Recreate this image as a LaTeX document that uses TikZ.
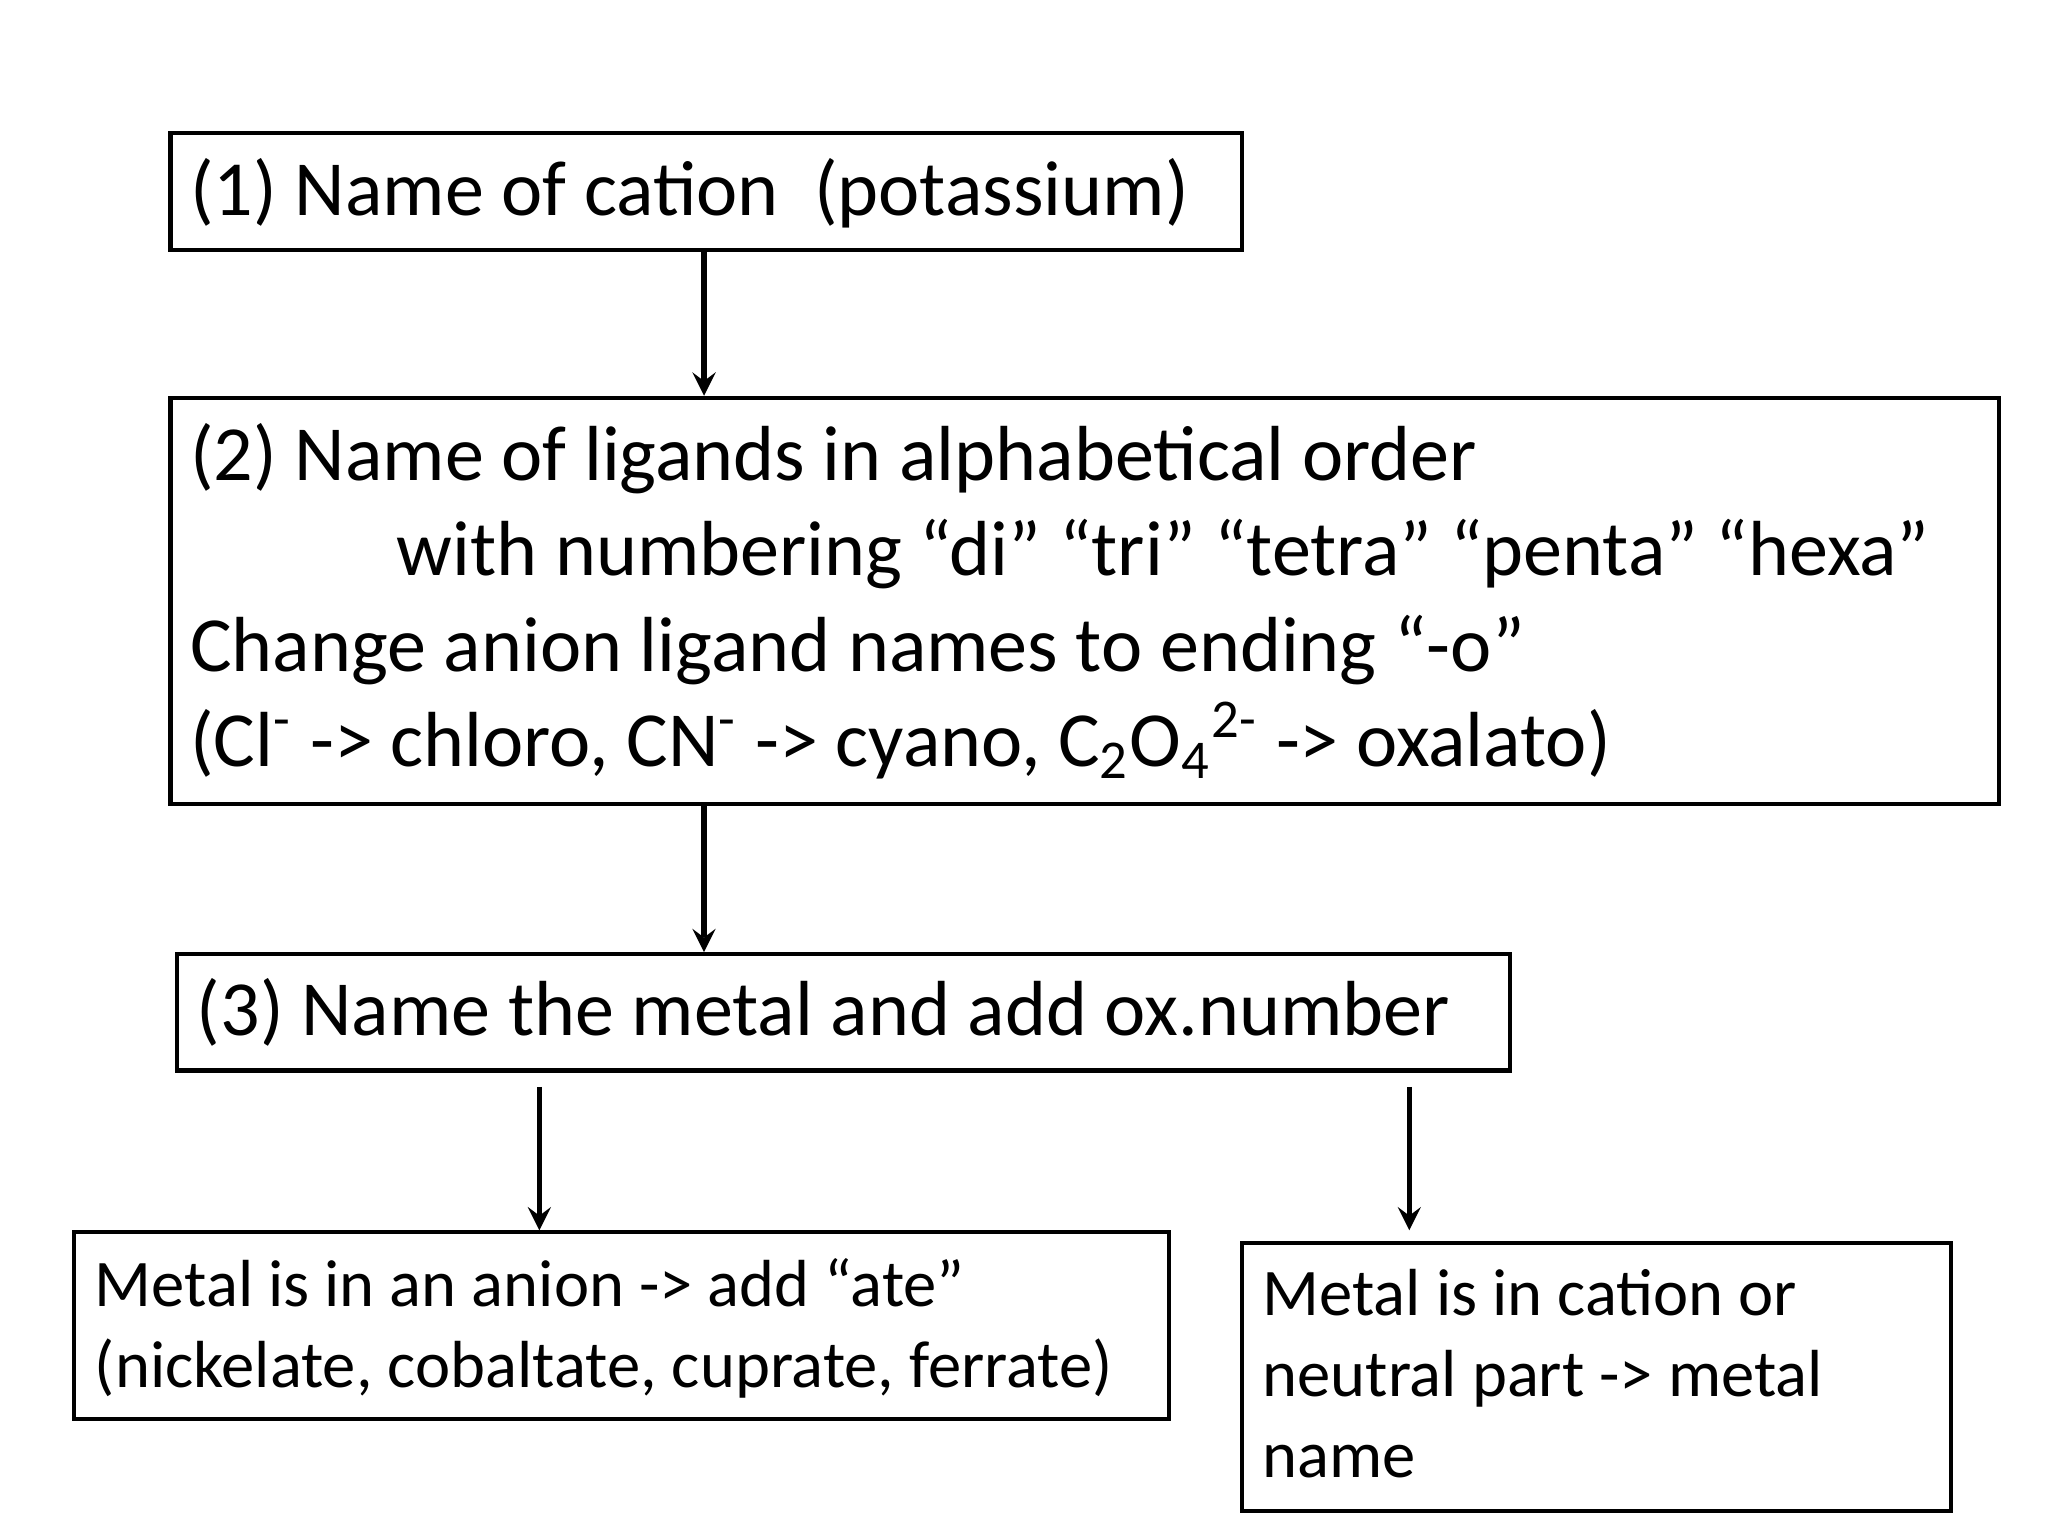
\documentclass[tikz,border=0pt]{standalone}
\usepackage{fontspec}
\setmainfont{Carlito}
\tikzset{box/.style={draw,line width=0.9pt,anchor=north west,inner sep=0},
 big/.style={anchor=base west,inner sep=0,font=\fontsize{17}{20.7}\selectfont},
 small/.style={anchor=base west,inner sep=0,font=\fontsize{14.5}{17.6}\selectfont},
 arr/.style={->,line width=1.2pt,>=stealth}}
\begin{document}
\begin{tikzpicture}[x=0.01cm,y=-0.01cm]
\useasboundingbox (0,0) rectangle (1568,1176);
\node[box,minimum width=8.2cm,minimum height=0.9cm] (b1) at (129,100) {};
\node[box,minimum width=13.99cm,minimum height=3.11cm] (b2) at (129,303) {};
\node[box,minimum width=10.2cm,minimum height=0.89cm] (b3) at (134,729) {};
\node[box,minimum width=8.38cm,minimum height=1.43cm] (b4) at (55,942) {};
\node[box,minimum width=5.43cm,minimum height=2.05cm] (b5) at (949,950) {};
\node[big] (t1) at (145,165) {(1) Name of cation\ \ (potassium)};
\node[big] (t2) at (145,368) {(2) Name of ligands in alphabetical order};
\node[big] (t3) at (303,441) {with numbering “di” “tri” “tetra” “penta” “hexa”};
\node[big] (t4) at (145,514) {Change anion ligand names to ending “-o”};
\node[big] (t5) at (145,587) {(Cl\textsuperscript{-} -> chloro, CN\textsuperscript{-} -> cyano, C\textsubscript{2}O\textsubscript{4}\textsuperscript{2-} -> oxalato)};
\node[big] (t6) at (150,793) {(3) Name the metal and add ox.number};
\node[small] (t7) at (72,1000) {Metal is in an anion -> add “ate”};
\node[small] (t8) at (72,1062) {(nickelate, cobaltate, cuprate, ferrate)};
\node[small] (t9) at (966,1007) {Metal is in cation or};
\node[small] (t10) at (966,1069) {neutral part -> metal};
\node[small] (t11) at (966,1131) {name};
\coordinate (a1) at (539,0);
\coordinate (a2) at (413,0);
\coordinate (a3) at (1079,0);
\draw[arr] (b1.south -| a1) -- (b2.north -| a1);
\draw[arr] (b2.south -| a1) -- (b3.north -| a1);
\draw[arr] ([yshift=-0.11cm]b3.south -| a2) -- (b4.north -| a2);
\draw[arr] ([yshift=-0.11cm]b3.south -| a3) -- ([yshift=0.08cm]b5.north -| a3);
\end{tikzpicture}
\end{document}
